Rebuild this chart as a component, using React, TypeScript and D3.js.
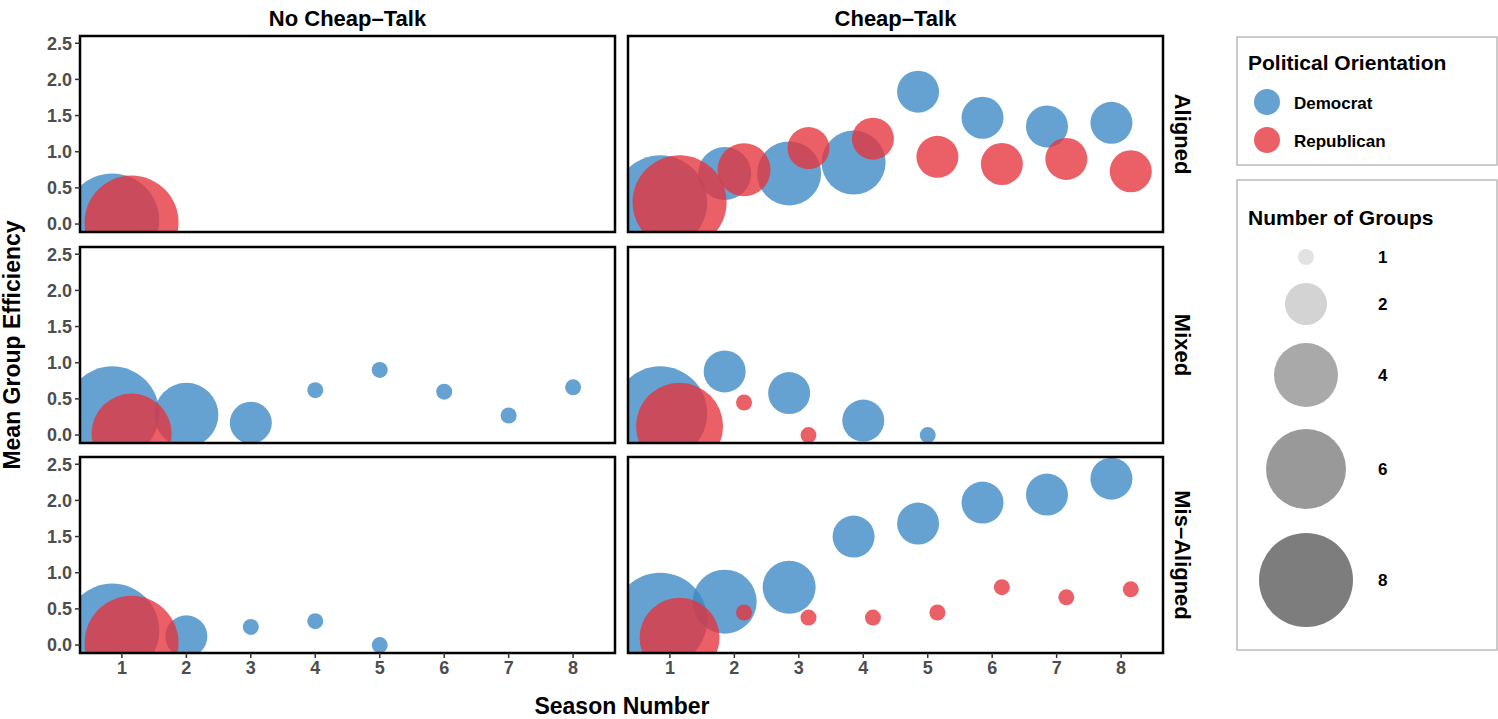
import * as d3 from 'd3'

type Pt = { s: number; v: number; n: number }

const seasons = [1, 2, 3, 4, 5, 6, 7, 8]
const yTicks = [0, 0.5, 1, 1.5, 2, 2.5]
const columns = ['No Cheap\u2013Talk', 'Cheap\u2013Talk']
const rows = ['Aligned', 'Mixed', 'Mis\u2013Aligned']
const sizeLegend = [1, 2, 4, 6, 8]

// [row][col] -> democrat / republican points
const demData: Pt[][][] = [
  [
    [{ s: 1, v: 0.05, n: 8 }],
    [
      { s: 1, v: 0.3, n: 8 }, { s: 2, v: 0.7, n: 3 }, { s: 3, v: 0.7, n: 4 }, { s: 4, v: 0.85, n: 4 },
      { s: 5, v: 1.83, n: 2 }, { s: 6, v: 1.47, n: 2 }, { s: 7, v: 1.35, n: 2 }, { s: 8, v: 1.4, n: 2 },
    ],
  ],
  [
    [
      { s: 1, v: 0.3, n: 8 }, { s: 2, v: 0.28, n: 4 }, { s: 3, v: 0.17, n: 2 }, { s: 4, v: 0.62, n: 1 },
      { s: 5, v: 0.9, n: 1 }, { s: 6, v: 0.6, n: 1 }, { s: 7, v: 0.27, n: 1 }, { s: 8, v: 0.66, n: 1 },
    ],
    [
      { s: 1, v: 0.3, n: 8 }, { s: 2, v: 0.88, n: 2 }, { s: 3, v: 0.58, n: 2 }, { s: 4, v: 0.2, n: 2 },
      { s: 5, v: 0.0, n: 1 },
    ],
  ],
  [
    [
      { s: 1, v: 0.2, n: 8 }, { s: 2, v: 0.12, n: 2 }, { s: 3, v: 0.25, n: 1 }, { s: 4, v: 0.33, n: 1 },
      { s: 5, v: 0.0, n: 1 },
    ],
    [
      { s: 1, v: 0.35, n: 8 }, { s: 2, v: 0.6, n: 4 }, { s: 3, v: 0.8, n: 3 }, { s: 4, v: 1.5, n: 2 },
      { s: 5, v: 1.68, n: 2 }, { s: 6, v: 1.97, n: 2 }, { s: 7, v: 2.08, n: 2 }, { s: 8, v: 2.3, n: 2 },
    ],
  ],
]

const repData: Pt[][][] = [
  [
    [{ s: 1, v: 0.02, n: 8 }],
    [
      { s: 1, v: 0.3, n: 8 }, { s: 2, v: 0.75, n: 3 }, { s: 3, v: 1.05, n: 2 }, { s: 4, v: 1.18, n: 2 },
      { s: 5, v: 0.93, n: 2 }, { s: 6, v: 0.83, n: 2 }, { s: 7, v: 0.9, n: 2 }, { s: 8, v: 0.73, n: 2 },
    ],
  ],
  [
    [{ s: 1, v: 0.02, n: 6 }],
    [{ s: 1, v: 0.12, n: 7 }, { s: 2, v: 0.45, n: 1 }, { s: 3, v: 0.0, n: 1 }],
  ],
  [
    [{ s: 1, v: 0.03, n: 8 }],
    [
      { s: 1, v: 0.1, n: 6 }, { s: 2, v: 0.45, n: 1 }, { s: 3, v: 0.38, n: 1 }, { s: 4, v: 0.38, n: 1 },
      { s: 5, v: 0.45, n: 1 }, { s: 6, v: 0.8, n: 1 }, { s: 7, v: 0.66, n: 1 }, { s: 8, v: 0.77, n: 1 },
    ],
  ],
]

const DEM = '#3a88c4'
const REP = '#e5323b'
const font = '"Liberation Sans", Arial, sans-serif'

const colX = [80, 628]
const panelW = 535
const rowY = [36, 247, 457]
const panelH = 196

const rScale = d3.scaleLinear().domain([1, 2, 4, 6, 8]).range([8, 21, 32, 40, 47])

export default function App() {
  const x = d3.scaleLinear().domain([0.35, 8.65]).range([0, panelW])
  const y = d3.scaleLinear().domain([-0.11, 2.6]).range([panelH, 0])

  const panels: JSX.Element[] = []
  rows.forEach((rn, ri) => {
    columns.forEach((cn, ci) => {
      const dem = demData[ri][ci]
      const rep = repData[ri][ci]
      const demS = new Set(dem.map(d => d.s))
      const repS = new Set(rep.map(d => d.s))
      const id = `clip-${ri}-${ci}`
      panels.push(
        <g key={id} transform={`translate(${colX[ci]},${rowY[ri]})`}>
          <clipPath id={id}><rect width={panelW} height={panelH} /></clipPath>
          <g clipPath={`url(#${id})`}>
            {dem.map((d, i) => (
              <circle key={'d' + i} cx={x(d.s - (repS.has(d.s) ? 0.15 : 0))} cy={y(d.v)} r={rScale(d.n)} fill={DEM} fillOpacity={0.78} />
            ))}
            {rep.map((d, i) => (
              <circle key={'r' + i} cx={x(d.s + (demS.has(d.s) ? 0.15 : 0))} cy={y(d.v)} r={rScale(d.n)} fill={REP} fillOpacity={0.78} />
            ))}
          </g>
          <rect width={panelW} height={panelH} fill="none" stroke="#000" strokeWidth={2.5} />
          {ci === 0 && yTicks.map(t => (
            <g key={t}>
              <line x1={-5} x2={0} y1={y(t)} y2={y(t)} stroke="#333" strokeWidth={1.5} />
              <text x={-8} y={y(t)} dy="0.35em" textAnchor="end" fontSize={18} fontWeight="bold" fill="#4d4d4d">{t.toFixed(1)}</text>
            </g>
          ))}
          {ri === 2 && seasons.map(s => (
            <g key={s}>
              <line x1={x(s)} x2={x(s)} y1={panelH} y2={panelH + 5} stroke="#333" strokeWidth={1.5} />
              <text x={x(s)} y={panelH + 21} textAnchor="middle" fontSize={18} fontWeight="bold" fill="#4d4d4d">{s}</text>
            </g>
          ))}
          {ri === 0 && (
            <text x={panelW / 2} y={-10} textAnchor="middle" fontSize={22} fontWeight="bold">{cn}</text>
          )}
          {ci === 1 && (
            <text transform={`translate(${panelW + 12},${panelH / 2}) rotate(90)`} textAnchor="middle" fontSize={22} fontWeight="bold">{rn}</text>
          )}
        </g>
      )
    })
  })

  const greys = ['#e2e2e2', '#d3d3d3', '#a9a9a9', '#999999', '#7d7d7d']
  const legY = [257, 304, 375, 469, 580]

  return (
    <svg width={1498} height={719} style={{ display: 'block', position: 'absolute', left: 0, top: 0 }} fontFamily={font}>
      <rect width={1498} height={719} fill="#fff" />
      {panels}
      <text transform="translate(20,345) rotate(-90)" textAnchor="middle" fontSize={23} fontWeight="bold">Mean Group Efficiency</text>
      <text x={622} y={714} textAnchor="middle" fontSize={23} fontWeight="bold">Season Number</text>

      <rect x={1237} y={37} width={260} height={128} fill="#fff" stroke="#bbb" strokeWidth={1.5} />
      <text x={1248} y={70} fontSize={21} fontWeight="bold">Political Orientation</text>
      <circle cx={1267} cy={102} r={13} fill={DEM} fillOpacity={0.78} />
      <text x={1294} y={109} fontSize={17} fontWeight="bold">Democrat</text>
      <circle cx={1267} cy={140} r={13} fill={REP} fillOpacity={0.78} />
      <text x={1294} y={147} fontSize={17} fontWeight="bold">Republican</text>

      <rect x={1237} y={180} width={260} height={470} fill="#fff" stroke="#bbb" strokeWidth={1.5} />
      <text x={1248} y={225} fontSize={21} fontWeight="bold">Number of Groups</text>
      {sizeLegend.map((n, i) => (
        <g key={n}>
          <circle cx={1306} cy={legY[i]} r={rScale(n)} fill={greys[i]} />
          <text x={1378} y={legY[i] + 6} fontSize={17} fontWeight="bold">{n}</text>
        </g>
      ))}
    </svg>
  )
}
